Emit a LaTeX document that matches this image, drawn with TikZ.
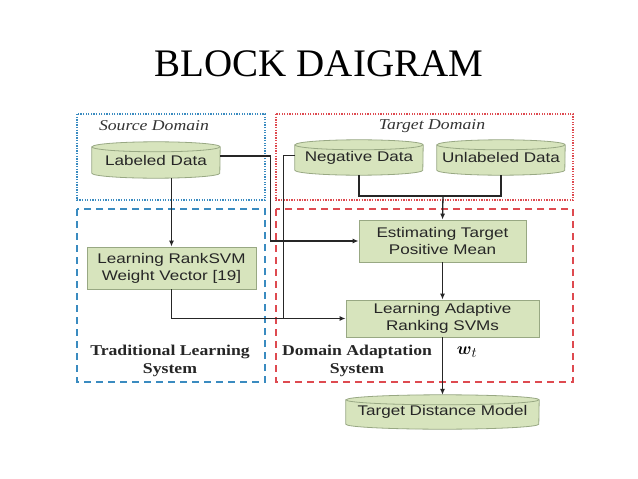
\documentclass[tikz,border=0pt]{standalone}
\usepackage{fontspec}
\usepackage{amsmath}
\setmainfont{Liberation Serif}
\newfontfamily\boxfont[FakeStretch=1.22]{Liberation Sans}
\newfontfamily\labfont[FakeStretch=1.18]{Liberation Serif}
\usetikzlibrary{arrows.meta,calc}
\definecolor{boxfill}{HTML}{D7E4BD}
\definecolor{boxline}{HTML}{98A883}
\definecolor{bluel}{HTML}{3A8BC0}
\definecolor{redl}{HTML}{DE4A50}
\definecolor{connc}{HTML}{262626}
\newcommand\mycyl[2]{%
  \path[fill=boxfill,draw=boxline,line width=0.8pt]
    ([yshift=-5pt]#1.north west) -- ([yshift=5pt]#1.south west)
    arc[start angle=180,end angle=360,x radius=#2,y radius=5pt]
    -- ([yshift=-5pt]#1.north east)
    arc[start angle=0,end angle=180,x radius=#2,y radius=5pt] -- cycle;
  \draw[boxline,line width=0.8pt] ([yshift=-5pt]#1.north west)
    arc[start angle=180,end angle=360,x radius=#2,y radius=5pt];
}
\tikzset{
  boxtext/.style={font=\boxfont\fontsize{14}{17}\selectfont,align=center,text=black!85},
  procbox/.style={boxtext,draw=boxline,fill=boxfill,line width=0.8pt,inner sep=0pt},
  dbnode/.style={boxtext,draw=none,inner sep=0pt},
  conn/.style={draw=connc,line width=1.3pt},
  arr/.style={conn,-{Latex[length=6pt,width=5pt]}},
  bluedot/.style={draw=bluel,line width=1.3pt,dash pattern=on 1.3pt off 1.3pt},
  reddot/.style={draw=redl,line width=1.3pt,dash pattern=on 1.3pt off 1.3pt},
  bluedash/.style={draw=bluel,line width=1.6pt,dash pattern=on 7pt off 5pt},
  reddash/.style={draw=redl,line width=1.6pt,dash pattern=on 7pt off 5pt},
  domlab/.style={font=\labfont\itshape\fontsize{15}{18}\selectfont,text=black!80},
  syslab/.style={font=\labfont\bfseries\fontsize{15}{18}\selectfont,align=center,text=black!85},
}
\begin{document}
\begin{tikzpicture}[x=1pt,y=-1pt]
\useasboundingbox (0,0) rectangle (638,479);
\fill[white] (0,0) rectangle (638,479);

\node[font=\fontsize{39}{39}\selectfont] (title) at (319,64) {BLOCK DAIGRAM};

% region boxes
\draw[bluedot] (77,114) rectangle (265,200);
\draw[reddot] (276,114) rectangle (573,200);
\draw[bluedash] (77,209) rectangle (265,382);
\draw[reddash] (276,209) rectangle (573,382);

\node[domlab] (srcl) at (154,126) {Source Domain};
\node[domlab] (tgtl) at (432,126) {Target Domain};
\node[syslab] (tls) at (170,361) {Traditional Learning\\System};
\node[syslab] (das) at (357,361) {Domain Adaptation\\System};

% databases
\node[dbnode,minimum width=128pt,minimum height=36pt] (ld) at (156,160) {};
\node[dbnode,minimum width=128pt,minimum height=35pt] (nd) at (359,157.5) {};
\node[dbnode,minimum width=128pt,minimum height=35pt] (ud) at (501,157.5) {};
\node[dbnode,minimum width=193pt,minimum height=34pt] (tdm) at (442.5,412) {};
\mycyl{ld}{64pt}
\mycyl{nd}{64pt}
\mycyl{ud}{64pt}
\mycyl{tdm}{96.5pt}
\node[dbnode] (ldt) at (ld.center) {\raisebox{-3pt}{Labeled Data}};
\node[dbnode] (ndt) at (nd.center) {\raisebox{-3pt}{Negative Data}};
\node[dbnode] (udt) at (ud.center) {\raisebox{-3pt}{Unlabeled Data}};
\node[dbnode] (tdmt) at (tdm.center) {\raisebox{-3pt}{Target Distance Model}};

% process boxes
\node[procbox,minimum width=169pt,minimum height=42pt] (rs) at (171.5,268) {Learning RankSVM\\Weight Vector [19]};
\node[procbox,minimum width=167pt,minimum height=42pt] (et) at (442.5,241) {Estimating Target\\Positive Mean};
\node[procbox,minimum width=193pt,minimum height=37pt] (la) at (442.5,318.5) {Learning Adaptive\\Ranking SVMs};

\node[font=\fontsize{19}{19}\selectfont] (wt) at (467,352) {$\boldsymbol{w}_t$};

% connectors
\coordinate (j1) at (443,196);
\draw[conn] (nd.south) |- (j1) -| (ud.south);
\draw[arr] (j1) -- (et.north);
\draw[arr] (rs.north |- ld.south) -- (rs.north);
\draw[arr] ([yshift=4pt]ld.east) -- ++(50,0) |- (et.west);
\draw[arr] (rs.south) |- (la.west);
\coordinate (j2) at (284,318.5);
\draw[conn] ([yshift=2pt]nd.west) -- ++(-11,0) |- (j2);
\draw[arr] (et.south) -- (la.north);
\draw[arr] (la.south) -- (tdm.north);
\end{tikzpicture}
\end{document}
